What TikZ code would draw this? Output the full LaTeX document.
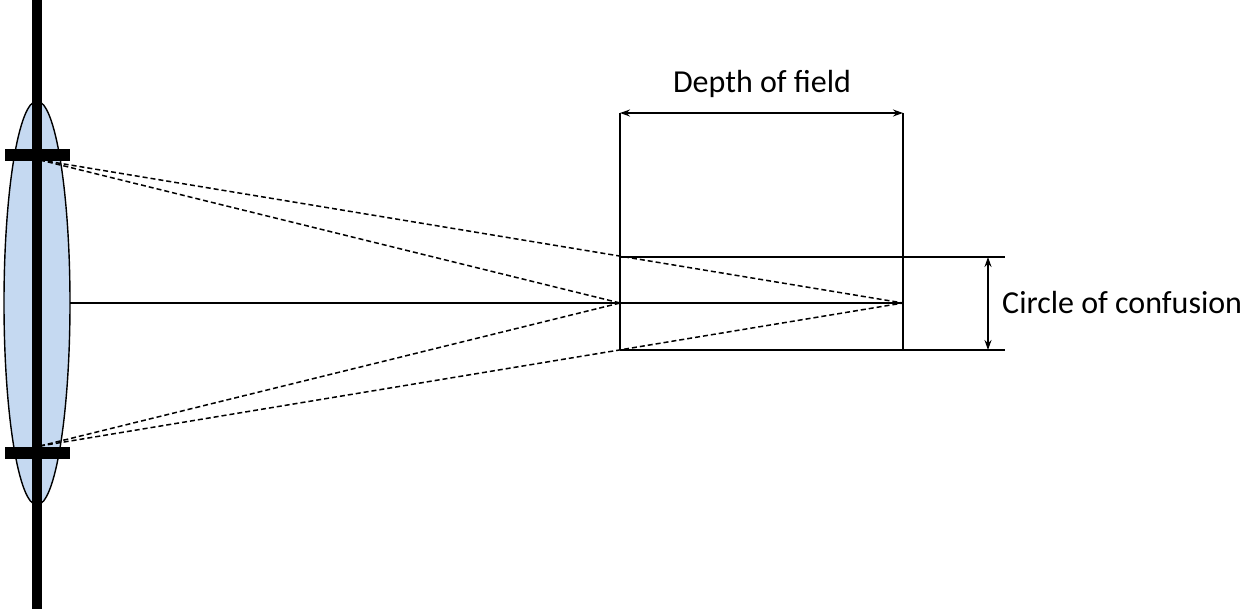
\documentclass[tikz,border=0pt]{standalone}
\usepackage{fontspec}
\setmainfont{Carlito}
\usetikzlibrary{arrows.meta}
\begin{document}
\begin{tikzpicture}[x=1pt,y=-1pt,
  thin/.style={line width=1.6pt},
  ray/.style={line width=1.5pt,dash pattern=on 5pt off 3pt},
  lbl/.style={font=\fontsize{32}{38}\selectfont},
  dim/.style={line width=1.6pt,{Stealth[length=10pt,width=7pt]}-{Stealth[length=10pt,width=7pt]}}]
\useasboundingbox (0,0) rectangle (1255,609);
\fill[white] (0,0) rectangle (1255,609);
% lens
\draw[fill={rgb,255:red,197;green,217;blue,241},line width=1.4pt] (37,303) ellipse [x radius=33, y radius=202];
\fill[black] (32,0) rectangle (42,609);
\fill[black] (5,149) rectangle (70,161);
\fill[black] (5,447) rectangle (70,459);
\coordinate (t) at (40,160);
\coordinate (b) at (40,446);
\coordinate (n) at (620,303);
\coordinate (f) at (903,303);
\draw[thin] (70,303) -- (f);
\draw[ray] (t) -- (n); \draw[ray] (t) -- (f);
\draw[ray] (b) -- (n); \draw[ray] (b) -- (f);
% box
\draw[thin] (620,113) -- (620,350);
\draw[thin] (903,113) -- (903,350);
\draw[thin] (620,257) -- (1005,257);
\draw[thin] (620,350) -- (1005,350);
\coordinate (a1) at (620,113); \coordinate (a2) at (903,113);
\draw[dim] (a1) -- (a2);
\coordinate (c1) at (988,257); \coordinate (c2) at (988,350);
\draw[dim] (c1) -- (c2);
\node[lbl] (dof) at (762,84) {Depth of field};
\node[lbl,anchor=west,inner sep=0pt] (coc) at (1002,303) {Circle of confusion};
\end{tikzpicture}
\end{document}
